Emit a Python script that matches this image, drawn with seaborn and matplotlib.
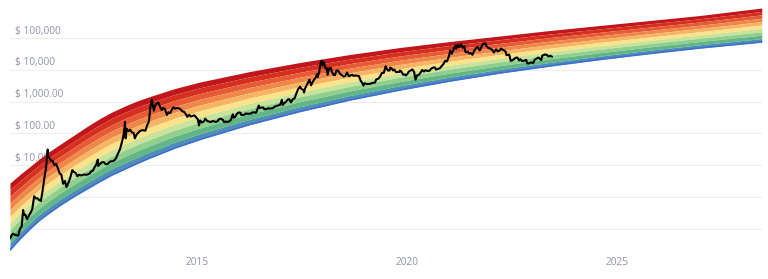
import numpy as np
import pandas as pd
import matplotlib
matplotlib.use("Agg")
import matplotlib.pyplot as plt
import seaborn as sns

# ---------------- data ----------------
band_dates = ["2010-07-15", "2010-10-10", "2011-01-05", "2011-04-01", "2011-06-10",
              "2011-09-22", "2012-01-31", "2012-05-15", "2012-09-05", "2012-12-18",
              "2013-04-10", "2013-07-24", "2013-11-13", "2014-06-19", "2015-01-22",
              "2016-04-01", "2017-06-10", "2018-08-18", "2019-10-27", "2021-01-05",
              "2022-03-15", "2023-05-23", "2024-07-31", "2025-10-10", "2026-12-18",
              "2028-06-10"]
band_top = [2.756, 5.10, 9.10, 16.24, 25.1, 44.8, 92.3, 164.8, 294, 471,
            727, 1044, 1447, 2581, 4133, 8841, 16970, 30280, 50270, 77620,
            115600, 172100, 247300, 355100, 509900, 877600]
band_bottom = [0.02154, 0.04777, 0.0986, 0.1891, 0.2920, 0.5403, 1.075, 1.785, 3.072, 4.918,
               7.595, 11.31, 16.84, 34.75, 64.3, 190.5, 488, 1123, 2316, 4444,
               7933, 13170, 21080, 32550, 48470, 74850]
band_colors = ["#c0161c", "#d5301f", "#e65a36", "#ef8748", "#f6b464", "#fce38a",
               "#c9e39a", "#90d08c", "#62b683", "#4f8fb3"]
bottom_line_color = "#3f6fd2"

price_dates = [
 "2010-07-17","2010-07-25","2010-08-10","2010-08-25","2010-09-10","2010-09-25","2010-10-10","2010-10-25",
 "2010-11-06","2010-11-15","2010-11-25","2010-12-10","2010-12-25","2011-01-10","2011-01-25","2011-02-10",
 "2011-02-25","2011-03-10","2011-03-25","2011-04-10","2011-04-25","2011-05-10","2011-05-25","2011-06-08",
 "2011-06-12","2011-06-20","2011-07-05","2011-07-20","2011-08-05","2011-08-20","2011-09-05","2011-09-20",
 "2011-10-05","2011-10-20","2011-11-05","2011-11-18","2011-12-05","2011-12-20","2012-01-08","2012-01-20",
 "2012-02-05","2012-02-20","2012-03-05","2012-03-20","2012-04-05","2012-04-20","2012-05-05","2012-05-20",
 "2012-06-05","2012-06-20","2012-07-05","2012-07-20","2012-08-05","2012-08-17","2012-08-20","2012-09-05",
 "2012-09-20","2012-10-05","2012-10-25","2012-11-10","2012-11-25","2012-12-10","2012-12-25","2013-01-10",
 "2013-01-25","2013-02-10","2013-02-25","2013-03-10","2013-03-25","2013-04-05","2013-04-10","2013-04-16",
 "2013-04-25","2013-05-10","2013-05-25","2013-06-10","2013-06-25","2013-07-05","2013-07-20","2013-08-05",
 "2013-08-20","2013-09-05","2013-09-20","2013-10-05","2013-10-20","2013-11-05","2013-11-18","2013-11-30",
 "2013-12-07","2013-12-18","2013-12-28","2014-01-10","2014-01-25","2014-02-10","2014-02-25","2014-03-10",
 "2014-03-25","2014-04-10","2014-04-25","2014-05-10","2014-05-25","2014-06-05","2014-06-20","2014-07-05",
 "2014-07-20","2014-08-05","2014-08-20","2014-09-05","2014-09-20","2014-10-05","2014-10-20","2014-11-05",
 "2014-11-20","2014-12-05","2014-12-20","2015-01-05","2015-01-14","2015-01-25","2015-02-10","2015-02-25",
 "2015-03-10","2015-03-25","2015-04-10","2015-04-25","2015-05-10","2015-05-25","2015-06-10","2015-06-25",
 "2015-07-10","2015-07-25","2015-08-10","2015-08-20","2015-09-05","2015-09-20","2015-10-05","2015-10-20",
 "2015-11-04","2015-11-12","2015-11-25","2015-12-10","2015-12-25","2016-01-10","2016-01-16","2016-01-30",
 "2016-02-10","2016-02-25","2016-03-10","2016-03-25","2016-04-10","2016-04-25","2016-05-10","2016-05-25",
 "2016-06-05","2016-06-17","2016-06-25","2016-07-10","2016-07-25","2016-08-05","2016-08-20","2016-09-05",
 "2016-09-20","2016-10-05","2016-10-20","2016-11-05","2016-11-20","2016-12-05","2016-12-20","2017-01-04",
 "2017-01-11","2017-01-25","2017-02-10","2017-02-25","2017-03-10","2017-03-24","2017-04-10","2017-04-25",
 "2017-05-10","2017-05-25","2017-06-11","2017-06-25","2017-07-10","2017-07-16","2017-07-25","2017-08-10",
 "2017-08-25","2017-09-01","2017-09-15","2017-09-25","2017-10-10","2017-10-25","2017-11-08","2017-11-12",
 "2017-11-25","2017-12-07","2017-12-17","2017-12-22","2018-01-06","2018-01-17","2018-01-28","2018-02-06",
 "2018-02-20","2018-03-05","2018-03-18","2018-04-01","2018-04-10","2018-04-25","2018-05-10","2018-05-25",
 "2018-06-10","2018-06-25","2018-07-10","2018-07-25","2018-08-10","2018-08-25","2018-09-05","2018-09-20",
 "2018-10-05","2018-10-20","2018-11-05","2018-11-20","2018-12-05","2018-12-15","2018-12-25","2019-01-10",
 "2019-01-25","2019-02-10","2019-02-25","2019-03-10","2019-03-25","2019-04-05","2019-04-25","2019-05-10",
 "2019-05-25","2019-06-10","2019-06-26","2019-07-05","2019-07-17","2019-07-30","2019-08-06","2019-08-20",
 "2019-08-29","2019-09-10","2019-09-25","2019-10-10","2019-10-25","2019-10-27","2019-11-10","2019-11-25",
 "2019-12-10","2019-12-18","2019-12-30","2020-01-14","2020-01-30","2020-02-13","2020-02-28","2020-03-12",
 "2020-03-25","2020-04-10","2020-04-30","2020-05-08","2020-05-25","2020-06-05","2020-06-25","2020-07-10",
 "2020-07-28","2020-08-17","2020-08-30","2020-09-05","2020-09-25","2020-10-10","2020-10-25","2020-11-10",
 "2020-11-25","2020-12-10","2020-12-27","2021-01-08","2021-01-22","2021-02-08","2021-02-21","2021-02-28",
 "2021-03-13","2021-03-25","2021-04-13","2021-04-25","2021-05-10","2021-05-19","2021-05-30","2021-06-10",
 "2021-06-22","2021-07-05","2021-07-20","2021-08-05","2021-08-22","2021-09-06","2021-09-21","2021-10-05",
 "2021-10-20","2021-11-08","2021-11-18","2021-12-04","2021-12-20","2022-01-05","2022-01-22","2022-02-10",
 "2022-02-24","2022-03-10","2022-03-28","2022-04-10","2022-04-25","2022-05-05","2022-05-12","2022-05-25",
 "2022-06-05","2022-06-18","2022-06-30","2022-07-10","2022-07-30","2022-08-14","2022-08-30","2022-09-10",
 "2022-09-25","2022-10-10","2022-10-30","2022-11-09","2022-11-21","2022-12-10","2022-12-30","2023-01-14",
 "2023-01-30","2023-02-15","2023-03-10","2023-03-20","2023-04-14","2023-04-30","2023-05-12","2023-05-30",
 "2023-06-12"]
price_values = [
 0.05,0.06,0.07,0.065,0.062,0.062,0.10,0.12,
 0.39,0.27,0.28,0.20,0.25,0.32,0.42,1.05,
 0.90,0.92,0.80,0.75,1.60,4.0,8.5,31.0,
 18.0,17.5,14.0,13.8,10.0,11.0,8.0,5.5,
 5.0,2.6,3.2,2.05,2.8,3.9,7.0,6.2,
 5.8,4.5,5.0,4.8,4.9,5.1,5.0,5.1,
 5.4,6.4,6.7,8.7,10.8,15.0,9.5,11.0,
 12.3,12.6,10.8,10.9,12.4,13.3,13.4,14.3,
 17.5,24,31,46,75,143,230,70,
 140,117,130,107,103,70,92,106,
 120,125,125,122,180,240,700,1150,
 800,520,740,870,930,680,540,630,
 580,380,460,440,580,660,600,630,
 620,585,500,480,410,330,385,340,
 355,370,320,275,178,255,220,238,
 290,248,236,226,242,240,229,243,
 285,290,265,228,236,231,240,270,
 400,310,330,415,455,448,380,378,
 380,424,413,416,421,462,454,450,
 580,750,630,650,655,575,580,610,
 605,611,630,703,730,765,790,1130,
 780,890,995,1170,1190,940,1210,1265,
 1800,2450,2950,2480,2330,1930,2600,3400,
 4350,4900,3250,3900,4800,5700,7400,5900,
 8700,16000,19300,13800,17100,11000,11700,6900,
 11200,11500,8200,6800,6800,9600,9300,7500,
 6800,6200,6400,8200,6300,6700,7000,6500,
 6600,6500,6400,4600,3800,3200,3800,3600,
 3570,3650,3800,3920,3960,5000,5300,6300,
 8000,8000,12900,11000,9400,9550,11800,10800,
 9500,10100,8400,8600,8600,9500,8800,7000,
 7200,6650,7200,8800,9500,10300,8700,4900,
 6700,6900,8700,9900,8800,9700,9250,9250,
 11000,12000,11700,10200,10700,11300,13100,15300,
 19200,18300,26400,40500,32000,46000,57500,45200,
 61000,52000,63500,49000,56000,37000,35500,37000,
 32500,34000,29800,40000,49000,52500,40500,51000,
 66000,67500,57000,49000,46500,43500,35000,44000,
 38000,39500,47000,42200,40500,36500,28900,29500,
 29900,19000,19800,20800,23800,24400,19800,21600,
 18900,19100,20600,16000,15800,17100,16500,20900,
 22800,24300,20200,28000,30400,29200,26300,27700,
 25900]

grid_values = [0.1, 1, 10, 100, 1000, 10000, 100000]
label_values = [10, 100, 1000, 10000, 100000]
label_texts = ["$ 10.00", "$ 100.00", "$ 1,000.00", "$ 10,000", "$ 100,000"]
x_ticks = ["2015-01-01", "2020-01-01", "2025-01-01"]
x_labels = ["2015", "2020", "2025"]

# ---------------- figure ----------------
sns.set_theme(style="white")
plt.rcParams["font.family"] = ["Open Sans", "DejaVu Sans"]

W, H = 768, 279
fig = plt.figure(figsize=(W / 100, H / 100), dpi=100)
ax = fig.add_axes([10 / W, 26 / H, 752 / W, 248 / H])
ax.set_yscale("log")
ax.set_ylim(10 ** -1.761, 10 ** 6.038)
ax.set_xlim(pd.Timestamp("2010-07-15"), pd.Timestamp("2028-06-12"))

for v in grid_values:
    ax.axhline(v, color="#ededed", lw=0.8, zorder=0)

lab_off = 10 ** (7 / 31.8)
for v, lab in zip(label_values, label_texts):
    ax.text(0.007, v * lab_off, lab, transform=ax.get_yaxis_transform(),
            ha="left", va="center", fontsize=7.3, color="#8e95a3", zorder=1)

bd = pd.to_datetime(band_dates)
lt = np.log10(np.array(band_top, dtype=float))
lb = np.log10(np.array(band_bottom, dtype=float))
n = len(band_colors)
for i, c in enumerate(band_colors):
    up = 10 ** (lt - (lt - lb) * i / n)
    lo = 10 ** (lt - (lt - lb) * (i + 1) / n)
    ax.fill_between(bd, lo, up, color=c, lw=0, zorder=2)
sns.lineplot(x=bd, y=band_bottom, color=bottom_line_color, lw=1.2, ax=ax, zorder=3)

sns.lineplot(x=pd.to_datetime(price_dates), y=price_values, color="black",
             lw=1.5, ax=ax, zorder=4)

ax.set_xticks(pd.to_datetime(x_ticks))
ax.set_xticklabels(x_labels)
ax.set_yticks([])
ax.minorticks_off()
ax.tick_params(axis="x", length=0, pad=3, labelsize=7.3, colors="#8e95a3")
ax.set_xlabel("")
ax.set_ylabel("")
for s in ax.spines.values():
    s.set_visible(False)
ax.set_facecolor("white")
ax.grid(False)

fig.savefig("out.png", dpi=100, facecolor="white")
